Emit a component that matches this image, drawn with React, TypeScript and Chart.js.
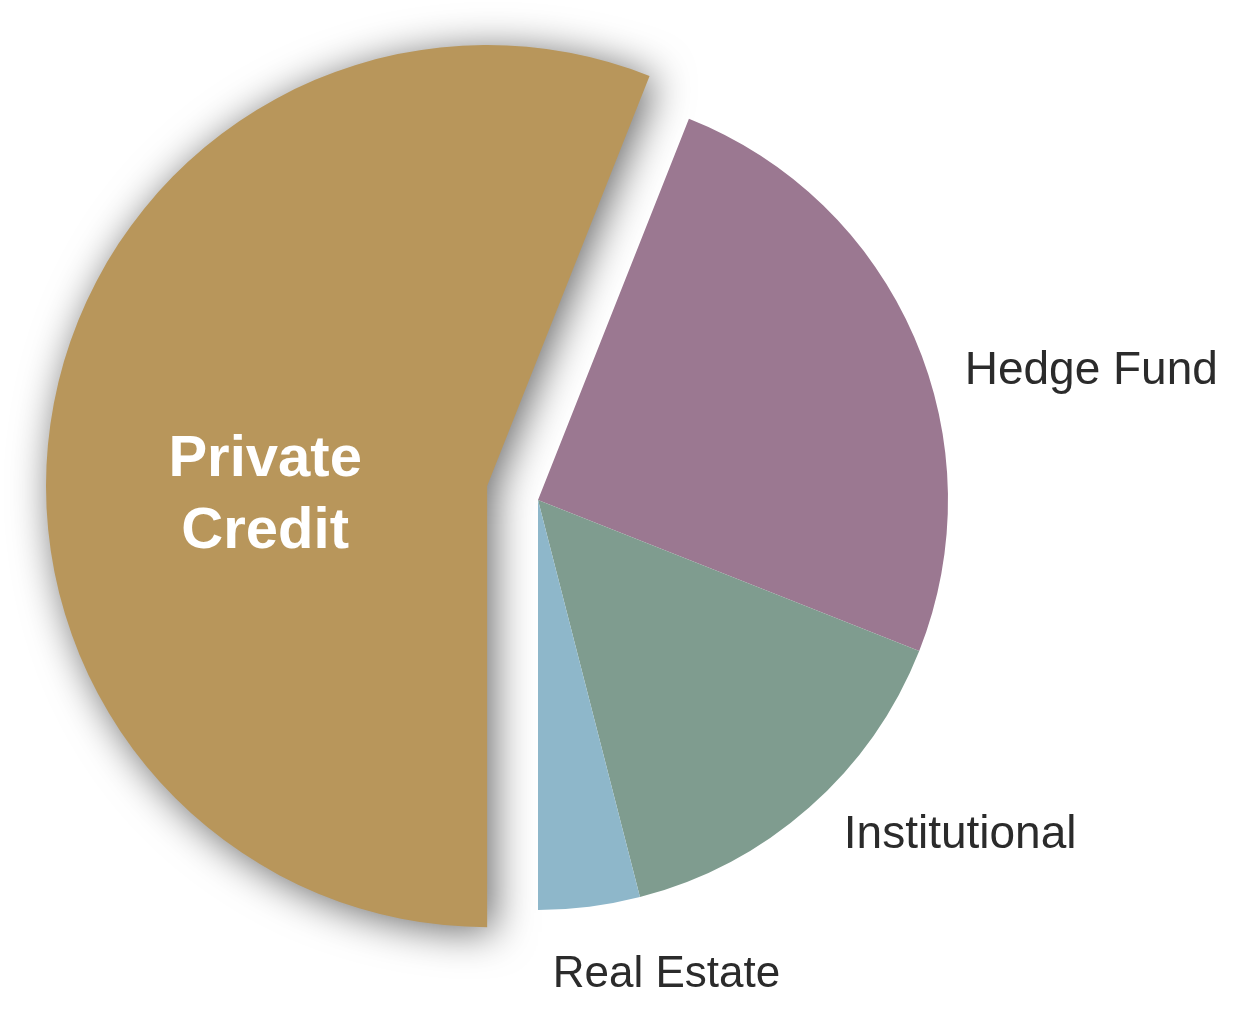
import React, { useEffect, useRef } from 'react';
import { Chart, registerables } from 'chart.js';

Chart.register(...registerables);

// ---- data ----
const CATEGORIES = ['Private Credit', 'Hedge Fund', 'Institutional', 'Real Estate'];
const VALUES = [56, 25, 15, 4];
const COLORS = ['#B8965B', '#9B7891', '#7F9C8F', '#8EB7CA'];
const LABEL_LINES = [['Private', 'Credit'], ['Hedge Fund'], ['Institutional'], ['Real Estate']];

// ---- style ----
const W = 1260;
const H = 1024;
const PAD = { left: 128, top: 90, right: 312, bottom: 114 };
const EXPLODE_DX = -0.124; // fraction of radius
const EXPLODE_DY = -0.034;
const EXPLODE_SCALE = 1.076;
const FONT = '"Liberation Sans", Arial, sans-serif';
// label anchor offsets (px) relative to slice's outer mid point (or center for inside label)
const LABEL_OFFSETS: [number, number][] = [[-222, -10], [177, 47], [151, 40], [77, 80]];
const LABEL_SIZES = [58, 46, 46, 44];
const LABEL_INSIDE = [true, false, false, false];

const explodePlugin = {
  id: 'explodeSlice',
  afterDatasetsUpdate(chart: any) {
    const meta = chart.getDatasetMeta(0);
    const arc = meta.data[0];
    if (!arc) return;
    const r = arc.outerRadius;
    arc.x += EXPLODE_DX * r;
    arc.y += EXPLODE_DY * r;
    arc.outerRadius = r * EXPLODE_SCALE;
    if (!arc._shadowWrapped) {
      const orig = arc.draw;
      arc.draw = function (ctx: CanvasRenderingContext2D, area: any) {
        ctx.save();
        ctx.shadowColor = 'rgba(0,0,0,0.6)';
        ctx.shadowBlur = 40;
        ctx.shadowOffsetX = 6;
        ctx.shadowOffsetY = 5;
        orig.call(this, ctx, area);
        ctx.restore();
      };
      arc._shadowWrapped = true;
    }
  },
};

const labelPlugin = {
  id: 'sliceLabels',
  afterDatasetsDraw(chart: any) {
    const ctx: CanvasRenderingContext2D = chart.ctx;
    const meta = chart.getDatasetMeta(0);
    meta.data.forEach((arc: any, i: number) => {
      const mid = (arc.startAngle + arc.endAngle) / 2;
      const [ox, oy] = LABEL_OFFSETS[i];
      let ax: number, ay: number;
      if (LABEL_INSIDE[i]) {
        ax = arc.x;
        ay = arc.y;
      } else {
        ax = arc.x + Math.cos(mid) * arc.outerRadius;
        ay = arc.y + Math.sin(mid) * arc.outerRadius;
      }
      ctx.save();
      ctx.textAlign = 'center';
      ctx.textBaseline = 'alphabetic';
      if (LABEL_INSIDE[i]) {
        ctx.fillStyle = '#ffffff';
        ctx.font = `bold ${LABEL_SIZES[i]}px ${FONT}`;
        LABEL_LINES[i].forEach((line, k) => {
          ctx.fillText(line, ax + ox, ay + oy + k * 72);
        });
      } else {
        ctx.fillStyle = '#2b2b2b';
        ctx.font = `${LABEL_SIZES[i]}px ${FONT}`;
        LABEL_LINES[i].forEach((line, k) => {
          ctx.fillText(line, ax + ox, ay + oy + k * 52);
        });
      }
      ctx.restore();
    });
  },
};

export default function App() {
  const ref = useRef<HTMLCanvasElement | null>(null);
  useEffect(() => {
    if (!ref.current) return;
    const chart = new Chart(ref.current, {
      type: 'pie',
      data: {
        labels: CATEGORIES,
        datasets: [
          {
            data: VALUES,
            backgroundColor: COLORS,
            borderWidth: 0,
          },
        ],
      },
      options: {
        responsive: false,
        animation: false,
        rotation: 180,
        layout: { padding: PAD },
        plugins: {
          legend: { display: false },
          tooltip: { enabled: false },
        },
        events: [],
      },
      plugins: [explodePlugin, labelPlugin],
    });
    return () => chart.destroy();
  }, []);
  return (
    <div style={{ position: 'absolute', left: 0, top: 0, width: W, height: H, background: '#fff' }}>
      <canvas ref={ref} width={W} height={H} style={{ width: W, height: H, display: 'block' }} />
    </div>
  );
}
